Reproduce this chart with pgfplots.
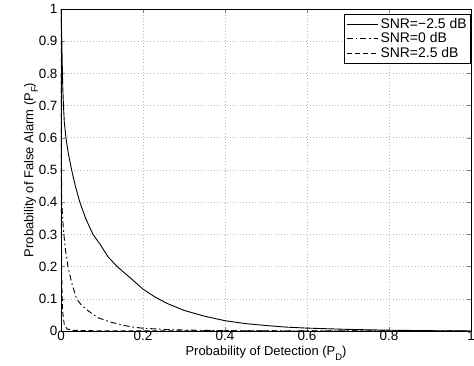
\documentclass[border=0pt]{standalone}
\usepackage{pgfplots}
\pgfplotsset{compat=1.18}
\usepackage{fontspec}
\setmainfont{Liberation Sans}
\begin{document}
\begin{tikzpicture}
\begin{axis}[
  scale only axis, width=410bp, height=322bp,
  at={(0,0)}, anchor=south west,
  xmin=0, xmax=1, ymin=0, ymax=1,
  xtick={0,0.2,...,1}, ytick={0,0.1,...,1},
  tick align=inside, tick pos=both,
  major tick length=4bp,
  grid=major, grid style={dash pattern=on 0.8pt off 2.4pt, gray!55, line width=0.6pt},
  axis line style={line width=0.9pt},
  /pgf/number format/assume math mode=true,
  ticklabel style={font=\fontsize{13.5}{14}\selectfont},
  xticklabel style={yshift=3bp},
  label style={font=\fontsize{13}{14}\selectfont},
  xlabel={Probability of Detection (P\raisebox{-0.35em}{\fontsize{9.5}{10}\selectfont D})},
  ylabel={Probability of False Alarm (P\raisebox{-0.35em}{\fontsize{9.5}{10}\selectfont F})},
  xlabel style={yshift=1.5bp},
  ylabel style={yshift=-6bp},
  legend style={font=\fontsize{14}{15}\selectfont, draw=black, line width=0.8pt, inner sep=2pt, row sep=-1pt, legend cell align=left, at={(1,0.985)}, anchor=north east},
  legend image post style={line width=0.8pt},
  legend image code/.code={\draw[#1] (0cm,0cm) -- (1.1cm,0cm);},
]
\addplot[black, line width=0.9pt] coordinates {
(0,1) (0.001,0.95) (0.002,0.9) (0.0035,0.8) (0.0045,0.75) (0.006,0.7) (0.008,0.65) (0.012,0.6) (0.018,0.55) (0.026,0.5) (0.035,0.45) (0.046,0.4) (0.06,0.35) (0.078,0.3) (0.095,0.27) (0.115,0.23) (0.137,0.2) (0.16,0.175) (0.2,0.13) (0.23,0.105) (0.26,0.085) (0.3,0.064) (0.35,0.046) (0.4,0.032) (0.45,0.023) (0.5,0.017) (0.55,0.012) (0.6,0.009) (0.7,0.005) (0.8,0.0025) (0.9,0.001) (1,0)};
\addlegendentry{SNR=−2.5 dB}
\addplot[black, line width=0.9pt, dash pattern=on 6pt off 3pt on 1.5pt off 3pt] coordinates {
(0,0.8) (0.0003,0.6) (0.001,0.5) (0.002,0.4) (0.004,0.35) (0.007,0.3) (0.011,0.25) (0.017,0.2) (0.026,0.15) (0.038,0.1) (0.05,0.08) (0.067,0.062) (0.08,0.05) (0.091,0.041) (0.12,0.028) (0.148,0.019) (0.17,0.013) (0.197,0.009) (0.25,0.005) (0.3,0.003) (0.4,0.001) (0.6,0.0003) (1,0)};
\addlegendentry{SNR=0 dB}
\addplot[black, line width=0.9pt, dash pattern=on 5pt off 3pt] coordinates {
(0,1) (0.0005,0.5) (0.001,0.3) (0.002,0.15) (0.004,0.06) (0.008,0.02) (0.015,0.006) (0.03,0.002) (0.1,0.0003) (1,0)};
\addlegendentry{SNR=2.5 dB}
\end{axis}
\pgfresetboundingbox
\path[use as bounding box] (-61bp,-35bp) rectangle (413bp,331bp);
\end{tikzpicture}
\end{document}
